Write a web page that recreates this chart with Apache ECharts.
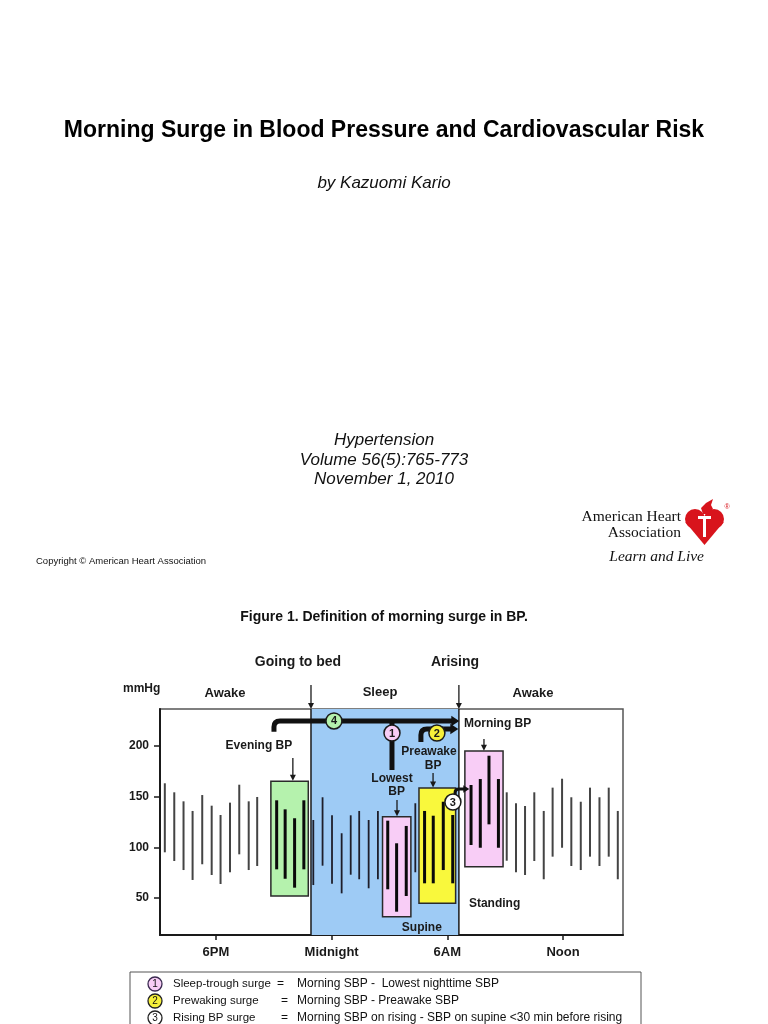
<!DOCTYPE html>
<html><head><meta charset="utf-8">
<script src="https://cdn.jsdelivr.net/npm/echarts@6/dist/echarts.min.js"></script>
<style>html,body{margin:0;padding:0;background:#fff}#c{width:768px;height:1024px}</style>
</head><body><div id="c"></div>
<script>
// ---------- data ----------
const xTickValues = [18, 24, 30, 36];           // hours (24 = midnight)
const xTickLabels = ['6PM', 'Midnight', '6AM', 'Noon'];
const yTickValues = [50, 100, 150, 200];
const bedHour = 22.93, riseHour = 30.6;

const awakeEveHours = [15.35, 15.84, 16.32, 16.79, 17.29, 17.78, 18.24, 18.73, 19.21, 19.70, 20.14];
const awakeEveHigh  = [163.2, 154.3, 145.4, 135.9, 151.6, 141.1, 131.9, 144.1, 161.8, 145.4, 149.7];
const awakeEveLow   = [95.1, 86.5, 77.6, 67.8, 83.3, 72.7, 63.8, 75.4, 93.1, 77.6, 81.6];

const eveningHours = [21.15, 21.59, 22.08, 22.56];
const eveningHigh  = [146.4, 137.5, 128.7, 146.4];
const eveningLow   = [78.3, 69.0, 60.2, 78.3];

const sleepHours = [23.05, 23.53, 24.02, 24.52, 24.99, 25.43, 25.92, 26.40, 28.34];
const sleepHigh  = [127.0, 149.4, 131.6, 113.9, 131.6, 135.9, 127.0, 135.9, 143.5];
const sleepLow   = [62.8, 81.9, 64.1, 54.6, 73.0, 68.5, 59.6, 68.5, 75.4];

const lowestHours = [26.91, 27.37, 27.87];
const lowestHigh  = [126.3, 104.0, 121.1];
const lowestLow   = [58.6, 36.5, 52.0];

const preawakeHours = [28.82, 29.27, 29.79, 30.28];
const preawakeHigh  = [135.9, 131.2, 145.0, 131.9];
const preawakeLow   = [64.5, 64.5, 77.6, 64.5];

const morningHours = [31.23, 31.71, 32.16, 32.65];
const morningHigh  = [161.5, 167.4, 190.4, 167.4];
const morningLow   = [102.3, 99.6, 122.7, 99.6];

const dayHours = [33.08, 33.56, 34.03, 34.51, 35.00, 35.46, 35.95, 36.43, 36.92, 37.40, 37.89, 38.37, 38.84];
const dayHigh  = [154.3, 143.5, 140.8, 154.3, 135.9, 158.9, 167.7, 149.4, 145.0, 158.9, 149.4, 158.9, 135.9];
const dayLow   = [86.8, 75.4, 72.7, 86.5, 68.5, 90.8, 99.6, 81.6, 77.6, 90.8, 81.6, 90.8, 68.5];

const boxNames = ['Evening BP', 'Lowest BP', 'Preawake BP', 'Morning BP'];
const boxStart = [20.85, 26.64, 28.53, 30.91];
const boxEnd   = [22.79, 28.11, 30.43, 32.89];
const boxLow   = [52.0, 31.6, 44.8, 80.9];
const boxHigh  = [165.2, 130.2, 158.6, 195.1];

const legendNums  = ['1', '2', '3'];
const legendNames = ['Sleep-trough surge', 'Prewaking surge', 'Rising BP surge'];
const legendDefs  = ['Morning SBP -  Lowest nighttime SBP', 'Morning SBP - Preawake SBP',
                     'Morning SBP on rising - SBP on supine <30 min before rising'];

// ---------- styles / layout ----------
const X_MIN = 15.1, X_MAX = 39.11, Y_MIN = 13.5, Y_MAX = 236.5;
const FONT = '"Liberation Sans", Arial, sans-serif';
const SERIF = '"Liberation Serif", "Times New Roman", serif';
const boxColors = ['#b5f2ad', '#f8cdf6', '#f9f83c', '#f8cdf6'];
const circleColors = {'1': '#f8cdf6', '2': '#f6f03a', '3': '#ffffff', '4': '#b5f2ad'};
const SLEEP_BLUE = '#9ecbf5';

const chart = echarts.init(document.getElementById('c'), null, {renderer: 'canvas'});

function barSeries(name, hours, low, high, color, width) {
  return {
    type: 'custom', name, z: 4,
    data: hours.map((h, i) => [h, low[i], high[i]]),
    encode: {x: 0, y: [1, 2]},
    renderItem: (p, api) => {
      const a = api.coord([api.value(0), api.value(1)]);
      const b = api.coord([api.value(0), api.value(2)]);
      return {type: 'line', shape: {x1: a[0], y1: a[1], x2: b[0], y2: b[1]},
              style: {stroke: color, lineWidth: width}};
    }
  };
}

function txt(x, y, text, font, align, color) {
  return {type: 'text', x, y, style: {text, font, align: align || 'center', verticalAlign: 'middle', fill: color || '#1a1a1a'}};
}
function downArrow(c, h, v0, v1, w) {
  const a = c(h, v0), b = c(h, v1);
  return [
    {type: 'line', shape: {x1: a[0], y1: a[1], x2: b[0], y2: b[1] - 4}, style: {stroke: '#1a1a1a', lineWidth: w || 1.3}},
    {type: 'polygon', shape: {points: [[b[0], b[1]], [b[0] - 3, b[1] - 6], [b[0] + 3, b[1] - 6]]}, style: {fill: '#1a1a1a'}}
  ];
}
function circ(pt, num) {
  return [
    {type: 'circle', shape: {cx: pt[0], cy: pt[1], r: 8}, style: {fill: circleColors[num], stroke: '#1a1a1a', lineWidth: 1.5}},
    {type: 'text', x: pt[0], y: pt[1] + 0.5, style: {text: num, font: 'bold 11px ' + FONT, align: 'center', verticalAlign: 'middle', fill: '#1a1a1a'}}
  ];
}
function bentArrow(c, h0, v0, v1, h1, w, r, head) {
  const p0 = c(h0, v0), p1 = c(h0, v1), tip = c(h1, v1);
  const path = `M${p0[0]} ${p0[1]} L${p0[0]} ${p1[1] + r} Q${p0[0]} ${p1[1]} ${p0[0] + r} ${p1[1]} L${tip[0] - head} ${p1[1]}`;
  return [
    {type: 'path', shape: {pathData: path}, style: {stroke: '#111', lineWidth: w, fill: null, lineCap: 'butt'}},
    {type: 'polygon', shape: {points: [[tip[0], tip[1]], [tip[0] - head - 1, tip[1] - head * 0.75], [tip[0] - head - 1, tip[1] + head * 0.75]]}, style: {fill: '#111'}}
  ];
}

const annotationSeries = {
  type: 'custom', name: 'annotations', z: 10, silent: true,
  data: [[X_MIN, Y_MIN]], encode: {x: 0, y: 1},
  renderItem: (p, api) => {
    const c = (h, v) => api.coord([h, v]);
    let ch = [];
    ch = ch.concat(downArrow(c, bedHour, 260.2, Y_MAX, 1.3));
    ch = ch.concat(downArrow(c, riseHour, 260.2, Y_MAX, 1.3));
    ch = ch.concat(bentArrow(c, 21.01, 214.0, 224.7, 30.62, 5, 6, 7));
    const t0 = c(27.13, 224.7), t1 = c(27.13, 176.3);
    ch.push({type: 'line', shape: {x1: t0[0], y1: t0[1], x2: t1[0], y2: t1[1]}, style: {stroke: '#111', lineWidth: 5}});
    ch = ch.concat(bentArrow(c, 28.63, 203.9, 216.8, 30.57, 5, 6, 7));
    ch = ch.concat(bentArrow(c, 30.40, 150.0, 157.6, 31.14, 3, 4, 5));
    ch = ch.concat(circ(c(24.12, 224.7), '4'));
    ch = ch.concat(circ(c(27.13, 212.8), '1'));
    ch = ch.concat(circ(c(29.46, 212.8), '2'));
    ch = ch.concat(circ(c(30.29, 144.7), '3'));
    const bf = 'bold 12px ' + FONT;
    let q = c(20.23, 200); ch.push(txt(q[0], q[1], 'Evening BP', bf));
    ch = ch.concat(downArrow(c, 21.99, 188.2, 165.6));
    q = c(30.86, 221.7); ch.push(txt(q[0], q[1], 'Morning BP', bf, 'left'));
    ch = ch.concat(downArrow(c, 31.90, 206.9, 195.3));
    q = c(29.05, 194.1); ch.push(txt(q[0], q[1], 'Preawake', bf));
    q = c(29.26, 180.3); ch.push(txt(q[0], q[1], 'BP', bf));
    ch = ch.concat(downArrow(c, 29.26, 173.4, 159.0));
    q = c(27.13, 167.4); ch.push(txt(q[0], q[1], 'Lowest', bf));
    q = c(27.37, 154.6); ch.push(txt(q[0], q[1], 'BP', bf));
    ch = ch.concat(downArrow(c, 27.39, 146.7, 130.6));
    q = c(28.68, 20.4); ch.push(txt(q[0], q[1], 'Supine', bf));
    q = c(31.12, 44.1); ch.push(txt(q[0], q[1], 'Standing', bf, 'left'));
    return {type: 'group', children: ch};
  }
};

const sleepSeries = {
  type: 'custom', name: 'sleep', z: 1, silent: true,
  data: [[bedHour, riseHour]], encode: {x: [0, 1]},
  renderItem: (p, api) => {
    const a = api.coord([api.value(0), Y_MAX]), b = api.coord([api.value(1), Y_MIN]);
    return {type: 'group', children: [
      {type: 'rect', shape: {x: a[0], y: a[1], width: b[0] - a[0], height: b[1] - a[1]}, style: {fill: SLEEP_BLUE}},
      {type: 'line', shape: {x1: a[0], y1: a[1], x2: a[0], y2: b[1]}, style: {stroke: '#1a1a1a', lineWidth: 1.5}},
      {type: 'line', shape: {x1: b[0], y1: a[1], x2: b[0], y2: b[1]}, style: {stroke: '#1a1a1a', lineWidth: 1.5}}
    ]};
  }
};

const boxSeries = {
  type: 'custom', name: 'boxes', z: 2, silent: true,
  data: boxStart.map((s, i) => [s, boxEnd[i], boxLow[i], boxHigh[i], i]),
  encode: {x: [0, 1], y: [2, 3]},
  renderItem: (p, api) => {
    const a = api.coord([api.value(0), api.value(3)]), b = api.coord([api.value(1), api.value(2)]);
    return {type: 'rect', shape: {x: a[0], y: a[1], width: b[0] - a[0], height: b[1] - a[1]},
            style: {fill: boxColors[api.value(4)], stroke: '#2a2a2a', lineWidth: 1.5}};
  }
};

// ---------- page graphics ----------
const g = [];
function gt(x, y, text, font, align, color) {
  g.push({type: 'text', x, y, style: {text, font, align: align || 'center', verticalAlign: 'middle', fill: color || '#000'}});
}
gt(384, 131, 'Morning Surge in Blood Pressure and Cardiovascular Risk', 'bold 23px ' + FONT);
gt(384, 183, 'by Kazuomi Kario', 'italic 17px ' + FONT, 'center', '#111');
gt(384, 440, 'Hypertension', 'italic 17px ' + FONT, 'center', '#111');
gt(384, 460, 'Volume 56(5):765-773', 'italic 17px ' + FONT, 'center', '#111');
gt(384, 479, 'November 1, 2010', 'italic 17px ' + FONT, 'center', '#111');
gt(36, 561, 'Copyright \u00A9 American Heart Association', '9.5px ' + FONT, 'left', '#111');
// AHA logo
gt(681, 517, 'American Heart', '15.5px ' + SERIF, 'right', '#111');
gt(681, 533, 'Association', '15.5px ' + SERIF, 'right', '#111');
gt(704, 557, 'Learn and Live', 'italic 15.5px ' + SERIF, 'right', '#111');
const RED = '#d8141c';
g.push({type: 'circle', shape: {cx: 695, cy: 519, r: 10}, style: {fill: RED}});
g.push({type: 'circle', shape: {cx: 714, cy: 519, r: 10}, style: {fill: RED}});
g.push({type: 'polygon', shape: {points: [[685.3, 522], [723.7, 522], [704.5, 545]]}, style: {fill: RED}});
g.push({type: 'rect', shape: {x: 703, y: 517, width: 3, height: 20}, style: {fill: '#fff'}});
g.push({type: 'rect', shape: {x: 698, y: 516, width: 13, height: 3}, style: {fill: '#fff'}});
g.push({type: 'polygon', shape: {points: [[703, 514], [701, 508], [706, 503], [713, 499], [711, 505], [713, 509], [708, 514]]}, style: {fill: RED}});
gt(727, 507, '\u00AE', '7px ' + FONT, 'center', RED);
// figure caption
gt(384, 617, 'Figure 1. Definition of morning surge in BP.', 'bold 14px ' + FONT, 'center', '#111');
// labels above plot
gt(298, 662, 'Going to bed', 'bold 14px ' + FONT, 'center', '#1a1a1a');
gt(455, 662, 'Arising', 'bold 14px ' + FONT, 'center', '#1a1a1a');
gt(123, 689, 'mmHg', 'bold 12px ' + FONT, 'left', '#1a1a1a');
gt(225, 693, 'Awake', 'bold 13px ' + FONT, 'center', '#1a1a1a');
gt(380, 692, 'Sleep', 'bold 13px ' + FONT, 'center', '#1a1a1a');
gt(533, 693, 'Awake', 'bold 13px ' + FONT, 'center', '#1a1a1a');
// legend table
g.push({type: 'rect', shape: {x: 130, y: 972, width: 511, height: 70}, style: {fill: 'transparent', stroke: '#555', lineWidth: 1}});
const rowY = [984, 1001, 1018];
legendNums.forEach((n, i) => {
  g.push({type: 'circle', shape: {cx: 155, cy: rowY[i], r: 7}, style: {fill: circleColors[n], stroke: i === 0 ? '#3a2a50' : '#222', lineWidth: 1.3}});
  gt(155, rowY[i] + 0.5, n, '10px ' + FONT, 'center', '#111');
  gt(173, rowY[i], legendNames[i], '11.5px ' + FONT, 'left', '#111');
  gt(i === 0 ? 277 : 281, rowY[i], '=', '12px ' + FONT, 'left', '#111');
  gt(297, rowY[i], legendDefs[i], '12px ' + FONT, 'left', '#111');
});

const option = {
  animation: false,
  backgroundColor: '#ffffff',
  grid: {left: 160, top: 709, width: 463, height: 226, show: true, borderColor: '#555', borderWidth: 1.5, backgroundColor: 'transparent'},
  xAxis: {
    type: 'value', min: X_MIN, max: X_MAX, splitLine: {show: false},
    axisLine: {onZero: false, lineStyle: {color: '#1a1a1a', width: 2}},
    axisTick: {customValues: xTickValues, length: 5, lineStyle: {color: '#1a1a1a', width: 1.5}},
    axisLabel: {customValues: xTickValues, formatter: v => xTickLabels[xTickValues.indexOf(v)],
                fontFamily: FONT, fontWeight: 'bold', fontSize: 13, color: '#1a1a1a', margin: 11}
  },
  yAxis: {
    type: 'value', min: Y_MIN, max: Y_MAX, splitLine: {show: false},
    axisLine: {show: true, onZero: false, lineStyle: {color: '#1a1a1a', width: 2}},
    axisTick: {show: true, customValues: yTickValues, length: 6, lineStyle: {color: '#1a1a1a', width: 1.5}},
    axisLabel: {customValues: yTickValues, fontFamily: FONT, fontWeight: 'bold', fontSize: 12, color: '#1a1a1a', margin: 11}
  },
  graphic: g,
  series: [
    sleepSeries,
    boxSeries,
    barSeries('awake evening', awakeEveHours, awakeEveLow, awakeEveHigh, '#444444', 2),
    barSeries('evening', eveningHours, eveningLow, eveningHigh, '#0a0a0a', 3),
    barSeries('sleep', sleepHours, sleepLow, sleepHigh, '#1e1e2a', 1.8),
    barSeries('lowest', lowestHours, lowestLow, lowestHigh, '#0a0a0a', 3),
    barSeries('preawake', preawakeHours, preawakeLow, preawakeHigh, '#0a0a0a', 3),
    barSeries('morning', morningHours, morningLow, morningHigh, '#0a0a0a', 3),
    barSeries('day', dayHours, dayLow, dayHigh, '#444444', 2),
    annotationSeries
  ]
};
chart.setOption(option);
</script>
</body></html>
